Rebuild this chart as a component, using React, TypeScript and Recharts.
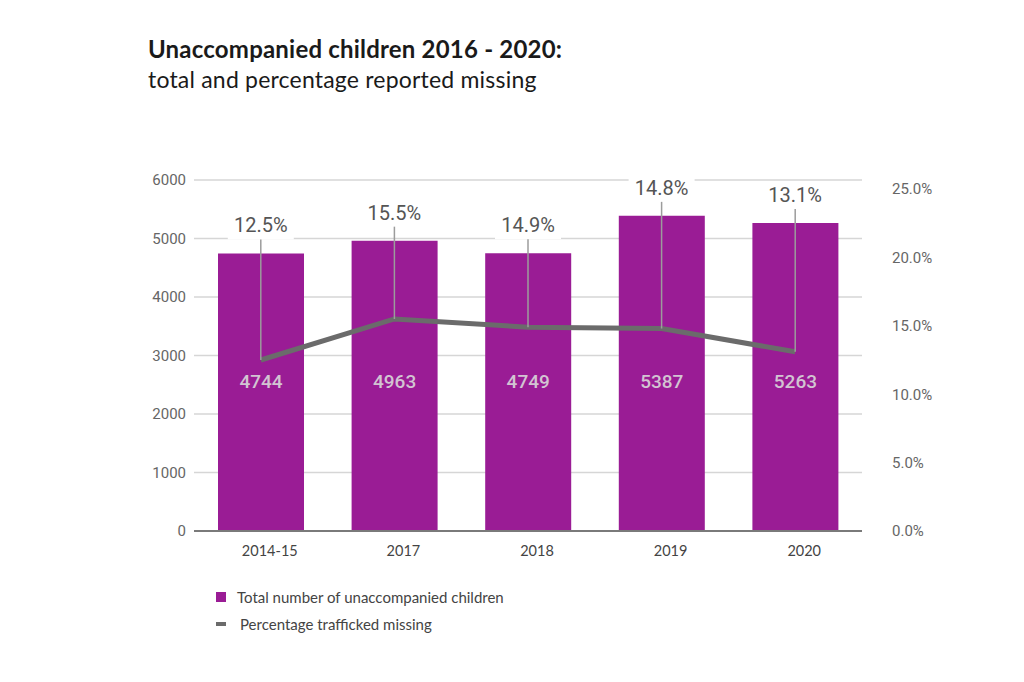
import React from 'react';
import { ComposedChart, Bar, Line, XAxis, YAxis, CartesianGrid, LabelList } from 'recharts';

// Years shown on the category axis
const categories = ['2014-15', '2017', '2018', '2019', '2020'];
// Total number of unaccompanied children per year
const totalChildren = [4744, 4963, 4749, 5387, 5263];
// Percentage of those children reported missing
const percentMissing = [12.5, 15.5, 14.9, 14.8, 13.1];

const countTicks = [0, 1000, 2000, 3000, 4000, 5000, 6000];
const percentTicks = [0, 5, 10, 15, 20, 25];

const seriesNames = ['Total number of unaccompanied children', 'Percentage trafficked missing'];

const data = categories.map((year, i) => ({
  year,
  total: totalChildren[i],
  pct: percentMissing[i],
}));

const PURPLE = '#9a1c95';
const LINE_GREY = '#6b6b6b';

// Top edge of each bar, recorded while the bar labels render so the
// percentage callouts can sit above their bar.
const barTops: Record<number, number> = {};

const TotalLabel = (props: any) => {
  const vb = props.viewBox ?? props;
  const { x, y, width, height } = vb;
  barTops[props.index] = y;
  return (
    <text
      x={x + width / 2}
      y={y + height - 150}
      textAnchor="middle"
      dominantBaseline="central"
      fill="#d2c4d2"
      fontFamily="Roboto, sans-serif"
      fontWeight={500}
      fontSize={19}
    >
      {props.value}
    </text>
  );
};

const PercentLabel = (props: any) => {
  const vb = props.viewBox ?? props;
  const { x, y } = vb;
  const top = barTops[props.index] ?? y - 110;
  const cy = top - 28;
  return (
    <g>
      <rect x={x - 33} y={cy - 14} width={66} height={28} fill="#ffffff" />
      <line x1={x} y1={cy + 14} x2={x} y2={y} stroke="#9c9c9c" strokeWidth={1.5} />
      <text
        x={x}
        y={cy}
        textAnchor="middle"
        dominantBaseline="central"
        fill="#555555"
        fontFamily="Roboto, sans-serif"
        fontSize={20}
      >
        {Number(props.value).toFixed(1)}%
      </text>
    </g>
  );
};

const YearTick = (props: any) => {
  const { x, y, payload } = props;
  return (
    <text
      x={x + 9}
      y={y + 6}
      textAnchor="middle"
      dominantBaseline="hanging"
      fill="#444444"
      fontFamily="Lato, sans-serif"
      fontSize={14.5}
    >
      {payload.value}
    </text>
  );
};

export default function App() {
  return (
    <div style={{ position: 'absolute', left: 0, top: 0, width: 1024, height: 682, background: '#fff' }}>
      <div
        style={{
          position: 'absolute',
          left: 148,
          top: 33,
          fontFamily: 'Lato, sans-serif',
          color: '#1a1a1a',
          lineHeight: '31px',
        }}
      >
        <div style={{ fontWeight: 700, fontSize: 24, letterSpacing: 0.2 }}>Unaccompanied children 2016 - 2020:</div>
        <div style={{ fontWeight: 400, fontSize: 23, letterSpacing: 0.2 }}>total and percentage reported missing</div>
      </div>

      <ComposedChart
        width={1024}
        height={682}
        data={data}
        margin={{ top: 180, right: 102, bottom: 121, left: 134 }}
        barCategoryGap={0}
      >
        <CartesianGrid yAxisId="left" vertical={false} stroke="#d6d6d6" strokeWidth={1.5} />
        <XAxis
          dataKey="year"
          height={30}
          tickLine={false}
          axisLine={{ stroke: '#7a7a7a', strokeWidth: 2 }}
          tick={<YearTick />}
          interval={0}
        />
        <YAxis
          yAxisId="left"
          width={60}
          domain={[0, 6000]}
          ticks={countTicks}
          axisLine={false}
          tickLine={false}
          tickMargin={2}
          tick={{ fill: '#666666', fontSize: 15, fontFamily: 'Roboto, sans-serif' }}
        />
        <YAxis
          yAxisId="right"
          orientation="right"
          width={60}
          domain={[0, 25.66]}
          ticks={percentTicks}
          allowDataOverflow
          axisLine={false}
          tickLine={false}
          tickMargin={24}
          tickFormatter={(v: number) => `${v.toFixed(1)}%`}
          tick={{ fill: '#666666', fontSize: 15, fontFamily: 'Roboto, sans-serif', textAnchor: 'start' }}
        />
        <Bar yAxisId="left" dataKey="total" fill={PURPLE} barSize={86} isAnimationActive={false}>
          <LabelList dataKey="total" content={<TotalLabel />} />
        </Bar>
        <Line
          yAxisId="right"
          dataKey="pct"
          type="linear"
          stroke={LINE_GREY}
          strokeWidth={5}
          dot={false}
          activeDot={false}
          isAnimationActive={false}
        >
          <LabelList dataKey="pct" content={<PercentLabel />} />
        </Line>
      </ComposedChart>

      <div
        style={{
          position: 'absolute',
          left: 216,
          top: 586,
          fontFamily: 'Lato, sans-serif',
          fontSize: 15,
          color: '#444444',
        }}
      >
        <div style={{ display: 'flex', alignItems: 'center', height: 22 }}>
          <span style={{ display: 'inline-block', width: 10, height: 10, background: PURPLE, marginRight: 11 }} />
          {seriesNames[0]}
        </div>
        <div style={{ display: 'flex', alignItems: 'center', height: 22, marginTop: 5 }}>
          <span style={{ display: 'inline-block', width: 10, height: 4, background: LINE_GREY, marginRight: 14 }} />
          {seriesNames[1]}
        </div>
      </div>
    </div>
  );
}
